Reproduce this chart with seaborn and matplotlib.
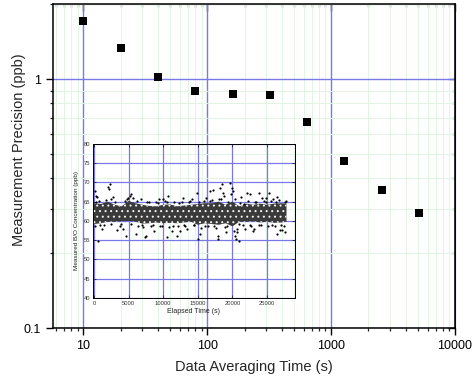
import matplotlib
matplotlib.use('Agg')
import matplotlib.pyplot as plt
import seaborn as sns
import pandas as pd
from matplotlib.ticker import LogLocator, NullFormatter, FixedLocator, FixedFormatter

# ---- main chart data ----
avg_time = [10, 20, 40, 80, 160, 320, 640, 1280, 2560, 5120]
precision = [1.71, 1.33, 1.02, 0.90, 0.87, 0.86, 0.67, 0.47, 0.36, 0.29]

x_ticks = [10, 100, 1000, 10000]
x_tick_labels = ['10', '100', '1000', '10000']
y_ticks = [0.1, 1]
y_tick_labels = ['0.1', '1']

# ---- inset data (dense band envelope + scattered points) ----
band_time = [0, 1000, 2000, 3000, 4000, 5000, 6000, 7000, 8000, 9000, 10000,
             11000, 12000, 13000, 14000, 15000, 16000, 17000, 18000, 19000,
             20000, 21000, 22000, 23000, 24000, 25000, 26000, 27000, 27800]
band_low = [59.2, 59.4, 59.8, 59.8, 59.9, 60.0, 59.8, 59.3, 59.4, 59.6, 59.4,
            59.5, 59.4, 59.6, 59.8, 59.0, 59.4, 59.2, 59.0, 59.4,
            58.6, 59.8, 59.8, 59.9, 59.6, 59.8, 59.5, 59.6, 59.8]
band_high = [64.6, 64.4, 65.0, 64.2, 63.8, 65.2, 64.6, 64.2, 63.9, 63.8, 64.2,
             64.3, 63.8, 64.0, 64.2, 64.4, 64.6, 64.6, 65.0, 64.2,
             65.0, 63.8, 64.5, 64.2, 64.5, 64.2, 64.5, 64.6, 64.5]
pt_time = [190, 340, 580, 2030, 2170, 2270, 4930, 5170, 5410, 6140, 4690,
           7580, 7340, 10480, 11930, 10720, 12900, 14830, 15070, 15310,
           16760, 17250, 17970, 18210, 18450, 18600, 17970, 19660, 19900,
           19760, 20040, 20390, 20530, 20870, 20630, 22080, 22560, 23770,
           25220, 26420, 27630, 1200, 3300, 8600, 9400, 13500, 16200, 21800,
           24300, 26900, 2800, 6800, 11200, 14200, 19100, 23100, 25900, 27200,
           500, 4200, 9900, 12400, 18800, 20200, 21300, 22900, 24800, 26400,
           100, 700, 1500, 2500, 3700, 4500, 5600, 6400, 7100, 7900, 8300,
           8900, 9600, 10200, 10900, 11600, 12100, 12700, 13200, 13900, 14500,
           15500, 15900, 16500, 17000, 17600, 18100, 18900, 19400, 20700,
           21100, 21500, 22300, 22700, 23400, 23900, 24600, 25100, 25600,
           26100, 26700, 27400, 27700,
           300, 900, 1700, 2400, 3100, 3900, 4700, 5300, 6200, 6900, 7700,
           8500, 9200, 9800, 10600, 11400, 12300, 13000, 13700, 14400, 15200,
           16000, 16800, 17400, 18300, 19200, 20300, 21000, 21700, 22500,
           23300, 24100, 24900, 25700, 26300, 27000, 27600]
pt_conc = [67.8, 66.5, 54.8, 68.9, 68.2, 69.5, 66.0, 66.5, 66.9, 56.6, 56.1,
           56.1, 55.7, 55.7, 56.0, 66.5, 66.0, 67.3, 55.3, 56.6,
           67.8, 68.0, 56.1, 68.6, 69.5, 67.3, 55.3, 69.9, 68.6,
           66.9, 67.8, 56.1, 55.3, 54.8, 57.0, 67.3, 66.9, 67.3,
           67.3, 56.6, 57.0, 57.8, 57.6, 57.5, 65.8, 57.8, 66.0, 57.9,
           65.9, 57.7, 66.2, 65.6, 57.4, 65.7, 57.2, 57.8, 65.6, 57.6,
           66.3, 57.9, 65.8, 57.5, 66.4, 57.3, 66.1, 57.4, 65.9, 66.2,
           58.6, 65.3, 58.9, 65.6, 58.7, 65.1, 65.9, 58.8, 58.4, 65.0, 58.6,
           64.9, 58.7, 65.2, 58.5, 65.0, 58.8, 64.8, 58.6, 65.1, 58.9,
           58.2, 65.3, 58.6, 65.4, 58.1, 65.8, 58.4, 65.0, 57.9,
           64.7, 58.9, 65.2, 58.8, 65.0, 58.9, 65.3, 58.7, 65.1,
           58.6, 65.4, 58.8, 65.2,
           64.9, 58.9, 65.4, 59.1, 64.8, 59.2, 65.6, 59.3, 65.1, 59.0, 64.9,
           58.9, 64.7, 58.8, 64.9, 58.8, 64.6, 58.9, 64.8, 59.0, 65.0,
           58.7, 65.2, 58.6, 65.6, 58.7, 65.7, 59.1, 64.5, 58.9,
           64.9, 59.0, 64.8, 58.9, 64.9, 59.0, 64.8]
inset_xticks = [0, 5000, 10000, 15000, 20000, 25000]
inset_yticks = [40, 45, 50, 55, 60, 65, 70, 75, 80]

sns.set_style('ticks')
plt.rcParams['font.family'] = ['Liberation Sans', 'DejaVu Sans']
plt.rcParams['hatch.linewidth'] = 0.7

BLUE = '#7878e8'
GREEN = '#e2f4e2'

fig = plt.figure(figsize=(4.74, 3.78), dpi=100)
ax = fig.add_axes([0.112, 0.132, 0.848, 0.857])
ax.set_xscale('log')
ax.set_yscale('log')
ax.set_xlim(5.7, 10000)
ax.set_ylim(0.1, 2.0)

main_df = pd.DataFrame({'t': avg_time, 'p': precision})
sns.scatterplot(data=main_df, x='t', y='p', marker='s', s=34, color='black',
                edgecolor='black', linewidth=0, ax=ax, zorder=5)

ax.xaxis.set_major_locator(FixedLocator(x_ticks))
ax.xaxis.set_major_formatter(FixedFormatter(x_tick_labels))
ax.xaxis.set_minor_locator(LogLocator(base=10, subs=range(2, 10)))
ax.xaxis.set_minor_formatter(NullFormatter())
ax.yaxis.set_major_locator(FixedLocator(y_ticks))
ax.yaxis.set_major_formatter(FixedFormatter(y_tick_labels))
ax.yaxis.set_minor_locator(LogLocator(base=10, subs=range(2, 10)))
ax.yaxis.set_minor_formatter(NullFormatter())

ax.grid(which='minor', color=GREEN, lw=0.7, zorder=0)
ax.grid(which='major', color=BLUE, lw=1.0, zorder=1)
ax.set_axisbelow(True)

ax.tick_params(which='major', direction='out', length=5, width=1.0, labelsize=9, colors='black')
ax.tick_params(which='minor', direction='out', length=2.5, width=0.9)
for s in ax.spines.values():
    s.set_linewidth(1.1)
    s.set_color('black')

top = ax.secondary_xaxis('top')
top.xaxis.set_major_locator(FixedLocator(x_ticks))
top.xaxis.set_minor_locator(LogLocator(base=10, subs=range(2, 10)))
top.tick_params(which='major', direction='in', length=5, width=1.0, labeltop=False)
top.tick_params(which='minor', direction='in', length=2.5, width=0.9)
top.xaxis.set_minor_formatter(NullFormatter())
right = ax.secondary_yaxis('right')
right.yaxis.set_major_locator(FixedLocator(y_ticks))
right.yaxis.set_minor_locator(LogLocator(base=10, subs=range(2, 10)))
right.tick_params(which='major', direction='in', length=5, width=1.0, labelright=False)
right.tick_params(which='minor', direction='in', length=2.5, width=0.9)
right.yaxis.set_minor_formatter(NullFormatter())

ax.set_xlabel('Data Averaging Time (s)', fontsize=10.5, labelpad=6)
ax.set_ylabel('Measurement Precision (ppb)', fontsize=10.5)
ax.yaxis.set_label_coords(-0.068, 0.55)

# ---- inset ----
ins = fig.add_axes([0.196, 0.212, 0.426, 0.407])
ins.patch.set_alpha(0)
ins.set_xlim(-150, 29000)
ins.set_ylim(40, 80)
ins.fill_between(band_time, band_low, band_high, facecolor='#3a3a3a',
                 edgecolor='#f4f4f4', hatch='...', linewidth=0, zorder=3)
pts_df = pd.DataFrame({'t': pt_time, 'c': pt_conc})
sns.scatterplot(data=pts_df, x='t', y='c', s=2.5, color='black', linewidth=0,
                ax=ins, zorder=4)
ins.set_xticks(inset_xticks)
ins.set_yticks(inset_yticks)
ins.grid(which='major', color=BLUE, lw=0.9)
ins.tick_params(direction='in', length=2, width=0.6, labelsize=4.2,
                labelcolor='#333333', top=True, right=True, pad=2)
for s in ins.spines.values():
    s.set_linewidth(0.7)
    s.set_color('black')
ins.set_xlabel('Elapsed Time (s)', fontsize=5, labelpad=2, color='#222222')
ins.set_ylabel('Measured B/O Concentration (ppb)', fontsize=4.6, labelpad=3, color='#222222')

fig.savefig('out.png', dpi=100)
